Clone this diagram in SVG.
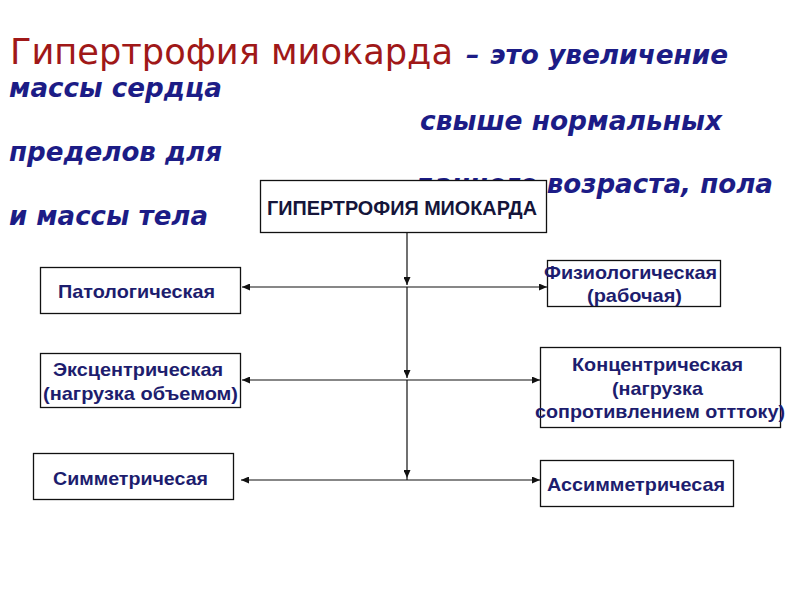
<svg xmlns="http://www.w3.org/2000/svg" width="800" height="600" viewBox="0 0 800 600">
<style>
.bg{fill:#ffffff}
.red{font-family:"DejaVu Sans","Liberation Sans",sans-serif;font-size:36px;fill:#a01818}
.blue{font-family:"DejaVu Sans","Liberation Sans",sans-serif;font-size:27px;font-weight:bold;font-style:italic;fill:#1c1c86}
.box{fill:#ffffff;stroke:#111111;stroke-width:1.3}
.lbl{font-family:"Liberation Sans",Arial,sans-serif;font-size:19px;font-weight:bold;fill:#1d1d6e;text-anchor:middle}
.main{font-family:"Liberation Sans",Arial,sans-serif;font-size:20px;font-weight:bold;fill:#15153a;text-anchor:middle}
.ln{stroke:#111111;stroke-width:1.2;fill:none}
</style>
<defs>
<marker id="arr" viewBox="0 0 8 7" refX="8" refY="3.5" markerWidth="8" markerHeight="7" markerUnits="userSpaceOnUse" orient="auto-start-reverse">
<path d="M0,0 L8,3.5 L0,7 z" fill="#111111"/>
</marker>
</defs>
<rect class="bg" x="0" y="0" width="800" height="600"/>
<g id="heading">
<text class="red" x="10" y="64" textLength="443" lengthAdjust="spacingAndGlyphs">Гипертрофия миокарда</text>
<text class="blue" x="466" y="64" font-size="18">–</text>
<text class="blue" x="490" y="64" textLength="238" lengthAdjust="spacingAndGlyphs">это увеличение</text>
<text class="blue" x="9" y="97" textLength="213" lengthAdjust="spacingAndGlyphs">массы сердца</text>
<text class="blue" x="420" y="130" textLength="302" lengthAdjust="spacingAndGlyphs">свыше нормальных</text>
<text class="blue" x="9" y="161" textLength="213" lengthAdjust="spacingAndGlyphs">пределов для</text>
<text class="blue" x="413" y="193" textLength="360" lengthAdjust="spacingAndGlyphs">данного возраста, пола</text>
<text class="blue" x="9" y="225" textLength="199" lengthAdjust="spacingAndGlyphs">и массы тела</text>
</g>
<g id="connectors">
<path class="ln" d="M407,233 V285" marker-end="url(#arr)"/>
<path class="ln" d="M407,287 V378" marker-end="url(#arr)"/>
<path class="ln" d="M407,380 V478" marker-end="url(#arr)"/>
<path class="ln" d="M407,478 V480"/>
<path class="ln" d="M242,287 H547" marker-start="url(#arr)" marker-end="url(#arr)"/>
<path class="ln" d="M242,380 H540" marker-start="url(#arr)" marker-end="url(#arr)"/>
<path class="ln" d="M241,480 H540" marker-start="url(#arr)" marker-end="url(#arr)"/>
</g>
<g id="n-main">
<rect class="box" x="260.5" y="180.5" width="286" height="52"/>
<text class="main" x="402" y="215" textLength="270" lengthAdjust="spacingAndGlyphs">ГИПЕРТРОФИЯ МИОКАРДА</text>
</g>
<g id="n-pato">
<rect class="box" x="40.5" y="267.5" width="200" height="46"/>
<text class="lbl" x="136.5" y="298" textLength="157" lengthAdjust="spacingAndGlyphs">Патологическая</text>
</g>
<g id="n-fizio">
<rect class="box" x="547.5" y="260.5" width="173" height="46"/>
<text class="lbl" x="630.5" y="279" textLength="173" lengthAdjust="spacingAndGlyphs">Физиологическая</text>
<text class="lbl" x="634.5" y="302" textLength="95" lengthAdjust="spacingAndGlyphs">(рабочая)</text>
</g>
<g id="n-ekscentr">
<rect class="box" x="40.5" y="353.5" width="200" height="54"/>
<text class="lbl" x="138" y="376" textLength="170" lengthAdjust="spacingAndGlyphs">Эксцентрическая</text>
<text class="lbl" x="140.5" y="400" textLength="195" lengthAdjust="spacingAndGlyphs">(нагрузка объемом)</text>
</g>
<g id="n-koncentr">
<rect class="box" x="540.5" y="347.5" width="240" height="80"/>
<text class="lbl" x="657.5" y="371" textLength="171" lengthAdjust="spacingAndGlyphs">Концентрическая</text>
<text class="lbl" x="657.5" y="395" textLength="91" lengthAdjust="spacingAndGlyphs">(нагрузка</text>
<text class="lbl" x="660" y="418" textLength="250" lengthAdjust="spacingAndGlyphs">сопротивлением отттоку)</text>
</g>
<g id="n-simm">
<rect class="box" x="33.5" y="453.5" width="200" height="46"/>
<text class="lbl" x="130.5" y="485" textLength="155" lengthAdjust="spacingAndGlyphs">Симметричесая</text>
</g>
<g id="n-asimm">
<rect class="box" x="540.5" y="460.5" width="193" height="46"/>
<text class="lbl" x="636" y="491" textLength="178" lengthAdjust="spacingAndGlyphs">Ассимметричесая</text>
</g>
</svg>
